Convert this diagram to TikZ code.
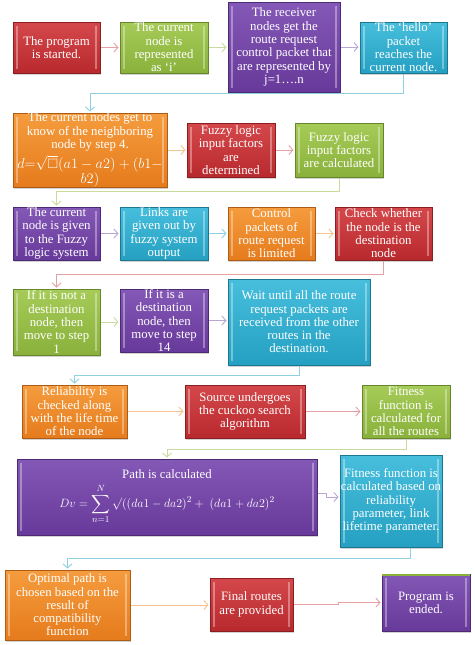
\documentclass[tikz,border=0pt]{standalone}
\usepackage{amsmath,amssymb}
\usepackage{fontspec}
\setmainfont{Liberation Serif}
\usetikzlibrary{arrows.meta,shadows}
\definecolor{cRed}{HTML}{B8292D}\definecolor{cRedL}{HTML}{D4484B}
\definecolor{cGreen}{HTML}{8AB13C}\definecolor{cGreenL}{HTML}{A6CB58}
\definecolor{cPurple}{HTML}{67399A}\definecolor{cPurpleL}{HTML}{8458B6}
\definecolor{cTeal}{HTML}{25A0C2}\definecolor{cTealL}{HTML}{47BEDC}
\definecolor{cOrange}{HTML}{E57B1C}\definecolor{cOrangeL}{HTML}{F59C3E}
\definecolor{aRed}{HTML}{E6A0A2}\definecolor{aGreen}{HTML}{C9DB9C}
\definecolor{aPurple}{HTML}{B9A6D4}\definecolor{aTeal}{HTML}{8ED1E1}
\definecolor{aOrange}{HTML}{F6C28D}
\tikzset{
  box/.style={draw=#1!75!black, line width=0.4pt, top color=#1L, bottom color=#1,
    inner sep=0pt, outer sep=0pt,
    drop shadow={shadow xshift=1.2pt, shadow yshift=-1.5pt, opacity=0.35},
    path picture={
      \draw[white, opacity=0.35, line width=1.3pt]
        ([xshift=4pt,yshift=-4pt]path picture bounding box.north west) --
        ([xshift=4pt,yshift=4pt]path picture bounding box.south west);
      \draw[white, opacity=0.35, line width=1.3pt]
        ([xshift=-4pt,yshift=-4pt]path picture bounding box.north east) --
        ([xshift=-4pt,yshift=4pt]path picture bounding box.south east);
    }},
  txt/.style={text=white, align=center, inner sep=0pt, font=\fontsize{12.8}{13.3}\selectfont},
  conn/.style={draw=#1, line width=0.9pt, -{Straight Barb[length=4pt,width=9pt]},
    shorten >=1.5pt, shorten <=1pt}
}
\newcommand\flowbox[7]{%
  \pgfmathsetmacro\fbw{#5-#3}\pgfmathsetmacro\fbh{#6-#4}%
  \pgfmathsetmacro\fbx{(#3+#5)/2}\pgfmathsetmacro\fby{(#4+#6)/2}%
  \node[box=#2, minimum width=\fbw pt, minimum height=\fbh pt] (#1) at (\fbx,\fby) {};
  \node[txt] (#1t) at (#1.center) {#7};}
\begin{document}
\begin{tikzpicture}[x=1pt,y=-1pt]
\useasboundingbox[fill=white] (0,0) rectangle (474,645);
% row 1
\flowbox{r1a}{cRed}{13}{22}{100}{73}{The program\\is started.}
\flowbox{r1b}{cGreen}{120}{22}{208}{73}{The current\\node is\\represented\\as ‘i’}
\flowbox{r1c}{cPurple}{228}{2}{340}{92}{The receiver\\nodes get the\\route request\\control packet that\\are represented by\\j=1….n}
\flowbox{r1d}{cTeal}{360}{22}{447}{73}{The ‘hello’\\packet\\reaches the\\current node.}
% row 2
\flowbox{r2a}{cOrange}{13}{113}{167}{187}{The current nodes get to\\know of the neighboring\\node by step 4.\\[3pt] {\fontsize{13.5}{14}\selectfont$d{=}\sqrt{\square}(a1-a2)+(b1-$}\\{\fontsize{13.5}{14}\selectfont$b2)$}}
\flowbox{r2b}{cRed}{187}{123}{275}{177}{Fuzzy logic\\input factors\\are\\determined}
\flowbox{r2c}{cGreen}{295}{123}{383}{177}{Fuzzy logic\\input factors\\are calculated}
% row 3
\flowbox{r3a}{cPurple}{13}{207}{100}{260}{The current\\node is given\\to the Fuzzy\\logic system}
\flowbox{r3b}{cTeal}{120}{207}{208}{260}{Links are\\given out by\\fuzzy system\\output}
\flowbox{r3c}{cOrange}{228}{207}{315}{260}{Control\\packets of\\route request\\is limited}
\flowbox{r3d}{cRed}{335}{207}{432}{260}{Check whether\\the node is the\\destination\\node}
% row 4
\flowbox{r4a}{cGreen}{13}{289}{100}{355}{If it is not a\\destination\\node, then\\move to step\\1}
\flowbox{r4b}{cPurple}{120}{289}{208}{352}{If it is a\\destination\\node, then\\move to step\\14}
\flowbox{r4c}{cTeal}{228}{279}{370}{365}{Wait until all the route\\request packets are\\received from the other\\routes in the\\destination.}
% row 5
\flowbox{r5a}{cOrange}{22}{385}{127}{438}{Reliability is\\checked along\\with the life time\\of the node}
\flowbox{r5b}{cRed}{185}{385}{305}{438}{Source undergoes\\the cuckoo search\\algorithm}
\flowbox{r5c}{cGreen}{362}{385}{450}{438}{Fitness\\function is\\calculated for\\all the routes}
% row 6
\flowbox{r6a}{cPurple}{17}{459}{317}{535}{Path is calculated\\[4pt] {\fontsize{13}{14}\selectfont$\displaystyle Dv=\sum_{n=1}^{N}\surd((da1-da2)^2+\ (da1+da2)^2$}}
\flowbox{r6b}{cTeal}{340}{455}{442}{547}{Fitness function is\\calculated based on\\reliability\\parameter, link\\lifetime parameter.}
% row 7
\flowbox{r7a}{cOrange}{5}{570}{130}{640}{Optimal path is\\chosen based on the\\result of\\compatibility\\function}
\flowbox{r7b}{cRed}{210}{578}{293}{631}{Final routes\\are provided}
\flowbox{r7c}{cPurple}{382}{574}{470}{631}{Program is\\ended.}
\draw[cGreen, line width=2pt] ([yshift=-1pt]r7c.north west) -- ([yshift=-1pt]r7c.north east);
% connectors
\draw[conn=aRed] (r1a.east) -- (r1a.east -| r1b.west);
\draw[conn=aGreen] (r1b.east) -- (r1b.east -| r1c.west);
\draw[conn=aPurple] (r1c.east) -- (r1c.east -| r1d.west);
\draw[conn=aTeal] (r1d.south) -- ++(0,20) -| (r2a.north);
\draw[conn=aOrange] (r2a.east) -- (r2a.east -| r2b.west);
\draw[conn=aRed] (r2b.east) -- (r2b.east -| r2c.west);
\draw[conn=aGreen] (r2c.south) -- ++(0,14) -| (r3a.north);
\draw[conn=aPurple] (r3a.east) -- (r3a.east -| r3b.west);
\draw[conn=aTeal] (r3b.east) -- (r3b.east -| r3c.west);
\draw[conn=aOrange] (r3c.east) -- (r3c.east -| r3d.west);
\draw[conn=aRed] (r3d.south) -- ++(0,14) -| (r4a.north);
\draw[conn=aGreen] (r4a.east) -- (r4a.east -| r4b.west);
\draw[conn=aPurple] (r4b.east) -- (r4b.east -| r4c.west);
\draw[conn=aTeal] (r4c.south) -- ++(0,10) -| (r5a.north);
\draw[conn=aOrange] (r5a.east) -- (r5a.east -| r5b.west);
\draw[conn=aRed] (r5b.east) -- (r5b.east -| r5c.west);
\draw[conn=aGreen] (r5c.south) -- ++(0,11) -| (r6a.north);
\draw[conn=aPurple] ([yshift=4pt]r6a.east) -- ++(9,0) |- ([yshift=4pt]r6b.west);
\draw[conn=aTeal] ([xshift=19pt]r6b.south) -- ++(0,11) -| (r7a.north);
\draw[conn=aOrange] (r7a.east) -- (r7a.east -| r7b.west);
\draw[conn=aRed] (r7b.east) -- ++(45,0) |- (r7c.west);
\end{tikzpicture}
\end{document}
